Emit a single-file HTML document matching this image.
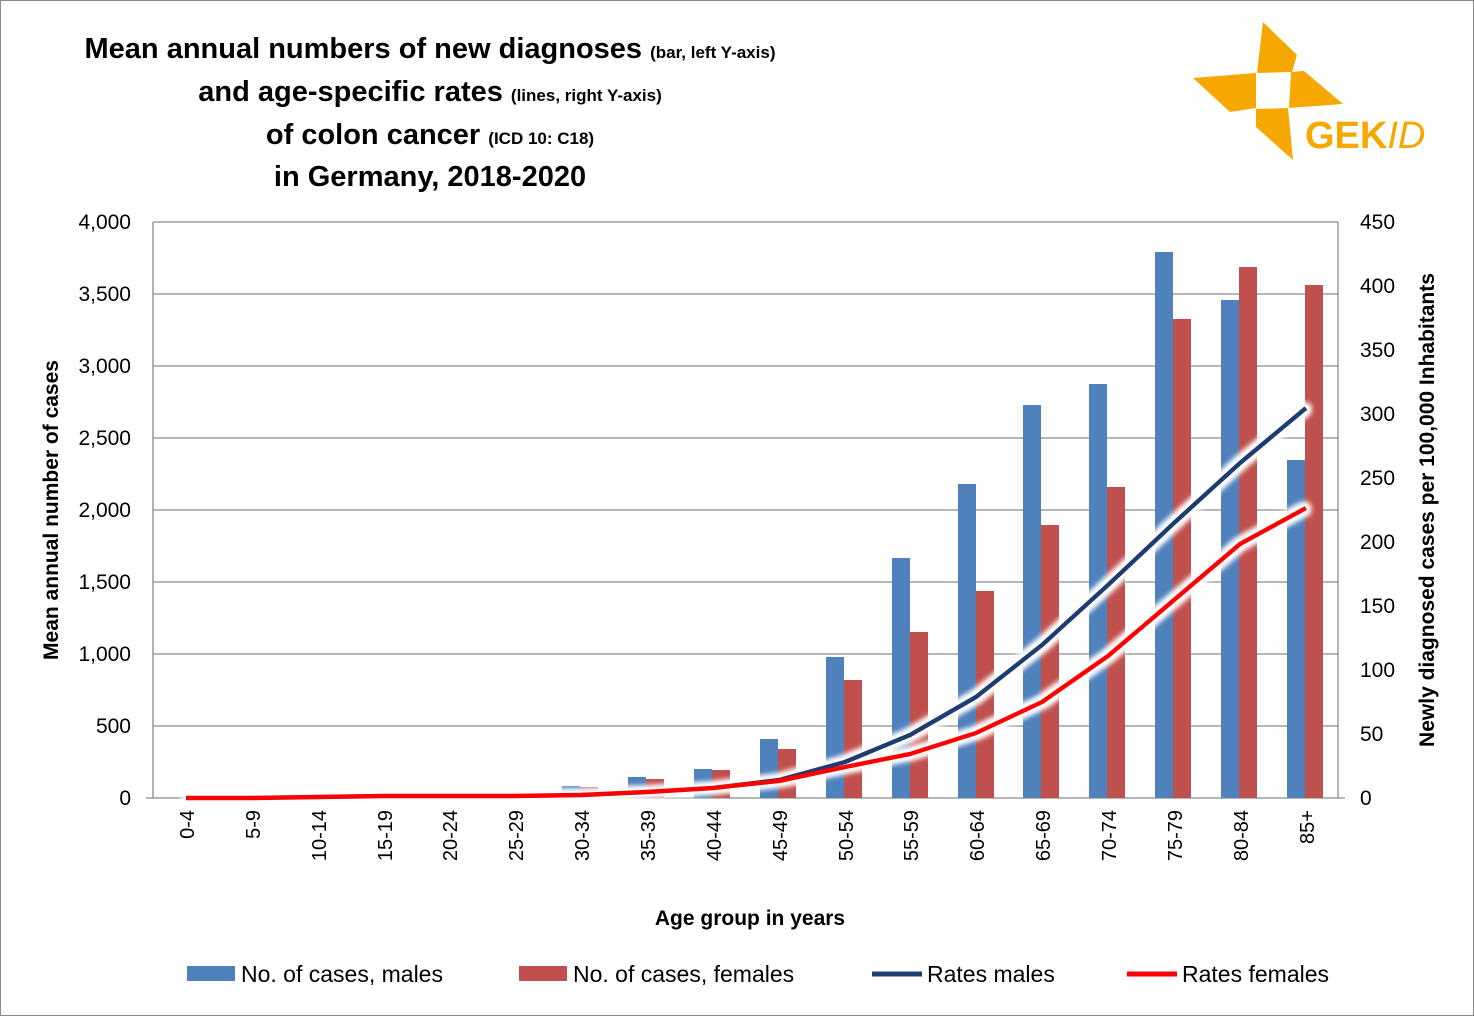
<!DOCTYPE html>
<html><head><meta charset="utf-8"><style>
body{margin:0;background:#fff;}
svg{display:block;font-family:"Liberation Sans",sans-serif;}
</style></head><body>
<svg width="1474" height="1016" viewBox="0 0 1474 1016" xmlns="http://www.w3.org/2000/svg">
<defs><filter id="glow" x="-10%" y="-10%" width="120%" height="120%"><feMorphology in="SourceAlpha" operator="dilate" radius="3" result="d"/><feGaussianBlur in="d" stdDeviation="3" result="b"/><feFlood flood-color="#fff"/><feComposite in2="b" operator="in" result="w"/><feMerge><feMergeNode in="w"/><feMergeNode in="w"/><feMergeNode in="SourceGraphic"/></feMerge></filter></defs>
<rect x="0.5" y="0.5" width="1473" height="1015" fill="#fff" stroke="#888"/>
<g font-weight="bold" fill="#000" text-anchor="middle">
<text x="430" y="58" font-size="29">Mean annual numbers of new diagnoses <tspan font-size="17">(bar, left Y-axis)</tspan></text>
<text x="430" y="101" font-size="29">and age-specific rates <tspan font-size="17">(lines, right Y-axis)</tspan></text>
<text x="430" y="144" font-size="29">of colon cancer <tspan font-size="17">(ICD 10: C18)</tspan></text>
<text x="430" y="186" font-size="29">in Germany, 2018-2020</text>
</g>
<g fill="#f6a800">
<polygon points="1263,22 1297,55 1292,72 1257,73"/>
<polygon points="1193,78 1256,73 1256,108 1230,112"/>
<polygon points="1291,72 1304,71 1343,104 1289,108"/>
<polygon points="1256,109 1288,108 1293,160 1256,127"/>
<text x="1305" y="148" font-size="38" font-weight="bold">GEK<tspan font-style="italic" font-weight="normal">ID</tspan></text>
</g>
<g stroke="#8c8c8c" stroke-width="1.3">
<line x1="153" y1="222" x2="1338" y2="222"/><line x1="153" y1="294" x2="1338" y2="294"/><line x1="153" y1="366" x2="1338" y2="366"/><line x1="153" y1="438" x2="1338" y2="438"/><line x1="153" y1="510" x2="1338" y2="510"/><line x1="153" y1="582" x2="1338" y2="582"/><line x1="153" y1="654" x2="1338" y2="654"/><line x1="153" y1="726" x2="1338" y2="726"/>
<line x1="153" y1="222" x2="153" y2="798"/><line x1="1338" y1="222" x2="1338" y2="798"/>
<line x1="146" y1="798" x2="1345" y2="798"/>
</g>
<g fill="#4f81bd">
<rect x="562" y="786" width="18" height="12"/>
<rect x="628" y="777" width="18" height="21"/>
<rect x="694" y="769" width="18" height="29"/>
<rect x="760" y="739" width="18" height="59"/>
<rect x="826" y="657" width="18" height="141"/>
<rect x="892" y="558" width="18" height="240"/>
<rect x="958" y="484" width="18" height="314"/>
<rect x="1023" y="405" width="18" height="393"/>
<rect x="1089" y="384" width="18" height="414"/>
<rect x="1155" y="252" width="18" height="546"/>
<rect x="1221" y="300" width="18" height="498"/>
<rect x="1287" y="460" width="18" height="338"/>
</g>
<g fill="#c0504d">
<rect x="580" y="787" width="18" height="11"/>
<rect x="646" y="779" width="18" height="19"/>
<rect x="712" y="770" width="18" height="28"/>
<rect x="778" y="749" width="18" height="49"/>
<rect x="844" y="680" width="18" height="118"/>
<rect x="910" y="632" width="18" height="166"/>
<rect x="976" y="591" width="18" height="207"/>
<rect x="1041" y="525" width="18" height="273"/>
<rect x="1107" y="487" width="18" height="311"/>
<rect x="1173" y="319" width="18" height="479"/>
<rect x="1239" y="267" width="18" height="531"/>
<rect x="1305" y="285" width="18" height="513"/>
</g>
<g fill="none" stroke-width="4.5" stroke-linejoin="round" filter="url(#glow)">
<polyline stroke="#1f3d6f" points="186,798 252,798 318,797 384,796 449,796 515,796 581,795 647,792 713,788 779,780 845,762 910,735 976,697 1042,645 1108,585 1174,523 1240,463 1306,408"/>
<polyline stroke="#ff0000" points="186,798 252,798 318,797 384,796 449,796 515,796 581,795 647,792 713,788 779,781 845,767 910,754 976,733 1042,702 1108,656 1174,600 1240,544 1306,508"/>
</g>
<g font-size="21" fill="#000" text-anchor="end">
<text x="131" y="229">4,000</text><text x="131" y="301">3,500</text><text x="131" y="373">3,000</text><text x="131" y="445">2,500</text><text x="131" y="517">2,000</text><text x="131" y="589">1,500</text><text x="131" y="661">1,000</text><text x="131" y="733">500</text><text x="131" y="805">0</text>
</g>
<g font-size="21" fill="#000">
<text x="1360" y="229">450</text><text x="1360" y="293">400</text><text x="1360" y="357">350</text><text x="1360" y="421">300</text><text x="1360" y="485">250</text><text x="1360" y="549">200</text><text x="1360" y="613">150</text><text x="1360" y="677">100</text><text x="1360" y="741">50</text><text x="1360" y="805">0</text>
</g>
<g font-size="20" fill="#000" text-anchor="end">
<text transform="translate(194,810) rotate(-90)">0-4</text>
<text transform="translate(260,810) rotate(-90)">5-9</text>
<text transform="translate(326,810) rotate(-90)">10-14</text>
<text transform="translate(392,810) rotate(-90)">15-19</text>
<text transform="translate(457,810) rotate(-90)">20-24</text>
<text transform="translate(523,810) rotate(-90)">25-29</text>
<text transform="translate(589,810) rotate(-90)">30-34</text>
<text transform="translate(655,810) rotate(-90)">35-39</text>
<text transform="translate(721,810) rotate(-90)">40-44</text>
<text transform="translate(787,810) rotate(-90)">45-49</text>
<text transform="translate(853,810) rotate(-90)">50-54</text>
<text transform="translate(918,810) rotate(-90)">55-59</text>
<text transform="translate(984,810) rotate(-90)">60-64</text>
<text transform="translate(1050,810) rotate(-90)">65-69</text>
<text transform="translate(1116,810) rotate(-90)">70-74</text>
<text transform="translate(1182,810) rotate(-90)">75-79</text>
<text transform="translate(1248,810) rotate(-90)">80-84</text>
<text transform="translate(1314,810) rotate(-90)">85+</text>
</g>
<g font-size="21" font-weight="bold" fill="#000" text-anchor="middle">
<text x="750" y="925">Age group in years</text>
<text transform="translate(58,510) rotate(-90)">Mean annual number of cases</text>
<text transform="translate(1434,510) rotate(-90)">Newly diagnosed cases per 100,000 Inhabitants</text>
</g>
<g font-size="23" fill="#000">
<rect x="187" y="966" width="48" height="15" fill="#4f81bd"/><text x="241" y="982">No. of cases, males</text>
<rect x="519" y="966" width="48" height="15" fill="#c0504d"/><text x="573" y="982">No. of cases, females</text>
<line x1="872" y1="974" x2="922" y2="974" stroke="#1f3d6f" stroke-width="5"/><text x="927" y="982">Rates males</text>
<line x1="1127" y1="974" x2="1177" y2="974" stroke="#ff0000" stroke-width="5"/><text x="1182" y="982">Rates females</text>
</g>
</svg>
</body></html>
